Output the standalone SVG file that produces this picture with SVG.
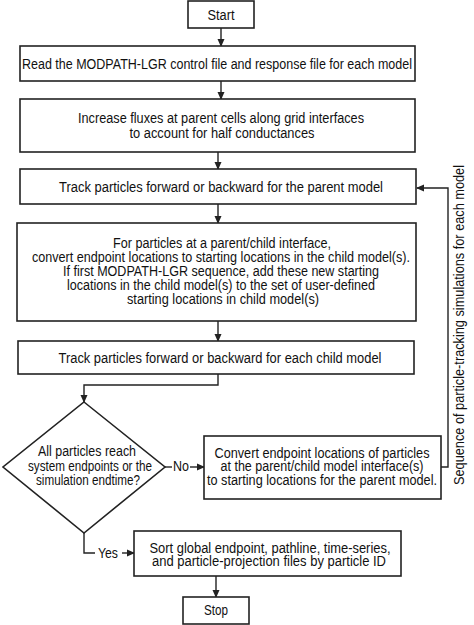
<svg xmlns="http://www.w3.org/2000/svg" width="474" height="625" viewBox="0 0 474 625">
<defs>
<style>
.box{fill:#fff;stroke:#222;stroke-width:1.6}
.ln{fill:none;stroke:#222;stroke-width:1.4}
text{font-family:"Liberation Sans Narrow","Liberation Sans",Arial,sans-serif;font-size:14px;fill:#111;text-anchor:middle}
</style>
<marker id="ah" markerWidth="8" markerHeight="8" refX="7" refY="4" orient="auto" markerUnits="userSpaceOnUse">
<path d="M0,0.5 L8,4 L0,7.5 z" fill="#222"/>
</marker>
</defs>
<rect width="474" height="625" fill="#fff"/>
<g id="connectors">
<line class="ln" x1="221" y1="28" x2="221" y2="46" marker-end="url(#ah)"/>
<line class="ln" x1="221" y1="81" x2="221" y2="99" marker-end="url(#ah)"/>
<line class="ln" x1="218" y1="152" x2="218" y2="169" marker-end="url(#ah)"/>
<line class="ln" x1="218" y1="204" x2="218" y2="223" marker-end="url(#ah)"/>
<line class="ln" x1="218" y1="321" x2="218" y2="341" marker-end="url(#ah)"/>
<polyline class="ln" points="218,374 218,385 84,385 84,402" marker-end="url(#ah)"/>
<line class="ln" x1="165" y1="467" x2="172" y2="467"/>
<line class="ln" x1="190" y1="467" x2="204" y2="467" marker-end="url(#ah)"/>
<polyline class="ln" points="441,467 448,467 448,188 417,188" marker-end="url(#ah)"/>
<polyline class="ln" points="84,533 84,553 95,553"/>
<line class="ln" x1="122" y1="553" x2="134" y2="553" marker-end="url(#ah)"/>
<line class="ln" x1="216" y1="576" x2="216" y2="597" marker-end="url(#ah)"/>
<text x="181" y="471" textLength="16" lengthAdjust="spacingAndGlyphs">No</text>
<text x="108" y="558" textLength="20" lengthAdjust="spacingAndGlyphs">Yes</text>
<text transform="translate(464,325) rotate(-90)" textLength="320" lengthAdjust="spacingAndGlyphs">Sequence of particle-tracking simulations for each model</text>
</g>
<g id="start">
<rect class="box" x="188" y="1" width="66" height="27"/>
<text x="221" y="20" textLength="27" lengthAdjust="spacingAndGlyphs">Start</text>
</g>
<g id="read">
<rect class="box" x="20" y="46" width="395" height="35"/>
<text x="217" y="69" textLength="390" lengthAdjust="spacingAndGlyphs">Read the MODPATH-LGR control file and response file for each model</text>
</g>
<g id="increase">
<rect class="box" x="20" y="99" width="395" height="53"/>
<text x="221" y="123" textLength="286" lengthAdjust="spacingAndGlyphs">Increase fluxes at parent cells along grid interfaces</text>
<text x="222" y="138" textLength="185" lengthAdjust="spacingAndGlyphs">to account for half conductances</text>
</g>
<g id="trackParent">
<rect class="box" x="20" y="169" width="396" height="35"/>
<text x="221" y="192" textLength="324" lengthAdjust="spacingAndGlyphs">Track particles forward or backward  for the parent model</text>
</g>
<g id="convertChild">
<rect class="box" x="17" y="223" width="399" height="98"/>
<text x="222" y="248" textLength="218" lengthAdjust="spacingAndGlyphs">For particles at a parent/child interface,</text>
<text x="221" y="262" textLength="378" lengthAdjust="spacingAndGlyphs">convert endpoint locations to starting locations in the child model(s).</text>
<text x="221" y="276" textLength="316" lengthAdjust="spacingAndGlyphs">If first MODPATH-LGR sequence, add these new starting</text>
<text x="221" y="290" textLength="308" lengthAdjust="spacingAndGlyphs">locations in the child model(s) to the set of user-defined</text>
<text x="223" y="304" textLength="192" lengthAdjust="spacingAndGlyphs">starting locations in child model(s)</text>
</g>
<g id="trackChild">
<rect class="box" x="18" y="341" width="396" height="33"/>
<text x="220" y="363" textLength="323" lengthAdjust="spacingAndGlyphs">Track particles forward or backward for each child model</text>
</g>
<g id="decision">
<polygon class="box" points="84,402 165,467 84,533 3,467"/>
<text x="87" y="456" textLength="98" lengthAdjust="spacingAndGlyphs">All particles reach</text>
<text x="90" y="471" textLength="124" lengthAdjust="spacingAndGlyphs">system endpoints or the</text>
<text x="88" y="485" textLength="104" lengthAdjust="spacingAndGlyphs">simulation endtime?</text>
</g>
<g id="convertParent">
<rect class="box" x="204" y="436" width="237" height="63"/>
<text x="322" y="458" textLength="215" lengthAdjust="spacingAndGlyphs">Convert endpoint locations of particles</text>
<text x="322" y="471" textLength="203" lengthAdjust="spacingAndGlyphs">at the parent/child model interface(s)</text>
<text x="322" y="485" textLength="230" lengthAdjust="spacingAndGlyphs">to starting locations for the parent model.</text>
</g>
<g id="sort">
<rect class="box" x="134" y="531" width="267" height="45"/>
<text x="270" y="553" textLength="241" lengthAdjust="spacingAndGlyphs">Sort global endpoint, pathline, time-series,</text>
<text x="269" y="566" textLength="234" lengthAdjust="spacingAndGlyphs">and particle-projection files by particle ID</text>
</g>
<g id="stop">
<rect class="box" x="183" y="597" width="66" height="27"/>
<text x="216" y="615" textLength="24" lengthAdjust="spacingAndGlyphs">Stop</text>
</g>
</svg>
